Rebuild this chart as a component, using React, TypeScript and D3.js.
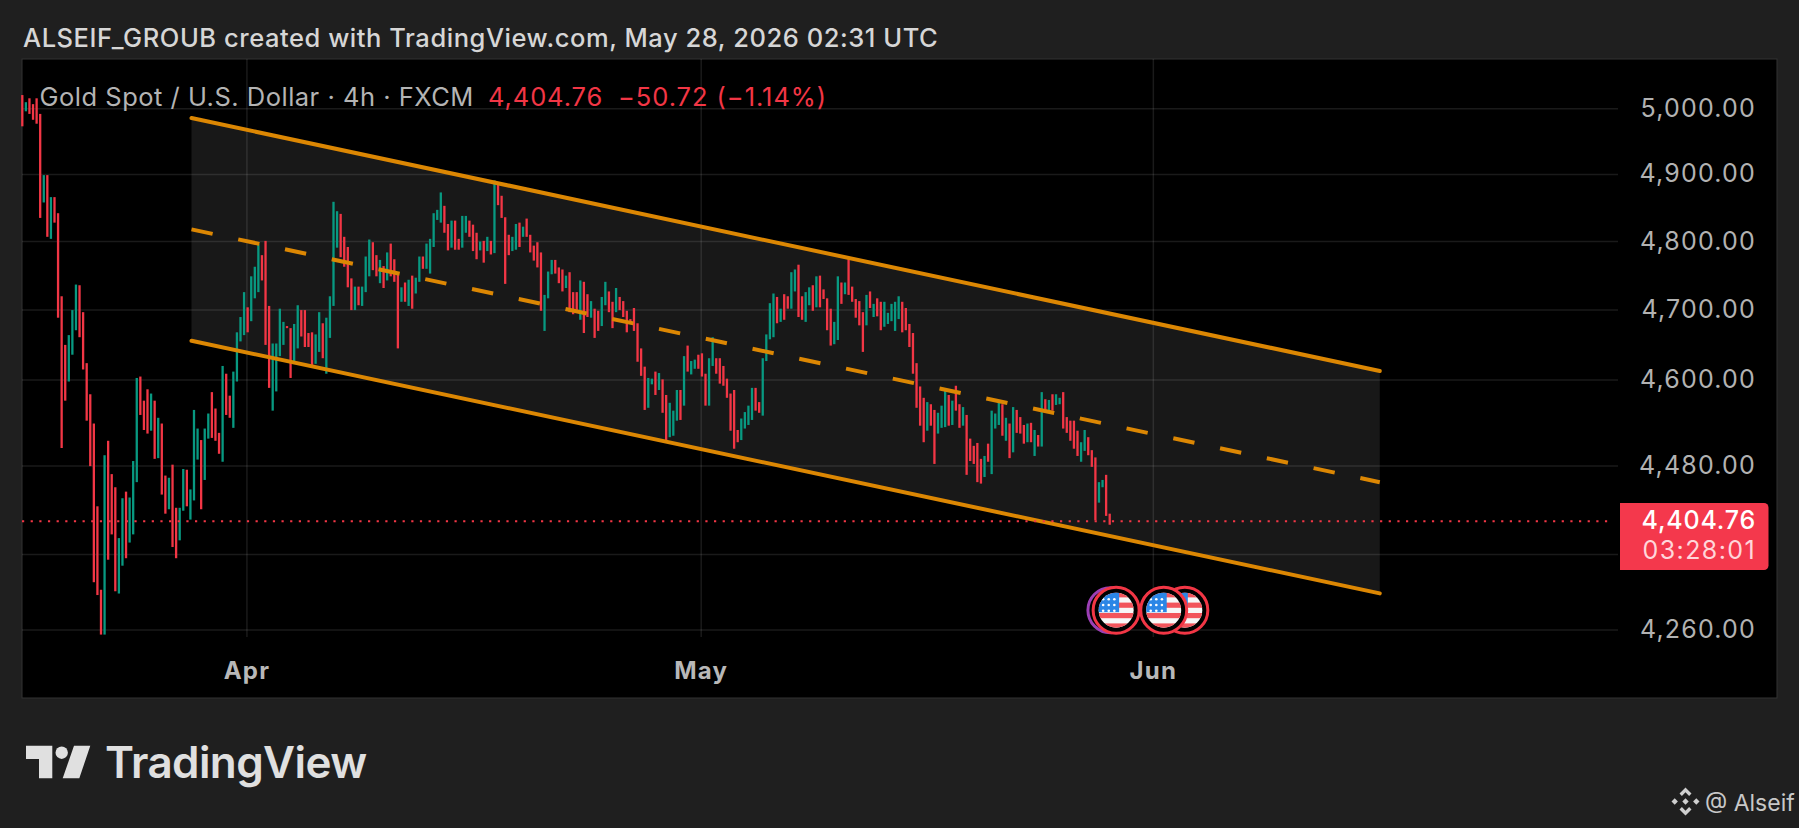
import React from "react";
import * as d3 from "d3";

const W = 1799, H = 828;
const titleText = "ALSEIF_GROUB created with TradingView.com, May 28, 2026 02:31 UTC";
const legendMain = "Gold Spot / U.S. Dollar · 4h · FXCM";
const legendPrice = "4,404.76";
const legendChange = "−50.72 (−1.14%)";
const lastPrice = 4404.76;
const countdown = "03:28:01";
const priceTicks = [5000, 4900, 4800, 4700, 4600, 4480, 4260];
const hiddenTicks = [4360];
const monthLabels = ["Apr", "May", "Jun"];
const monthBars = [62.8, 189.8, 316.2];

const highs = [
5021,5010,5016,5007,5016,4992,4899,4899,4866,4866,
4842,4720,4650,4664,4700,4737,4736,4697,4624,4580,
4539,4425,4313,4495,4515,4469,4451,4382,4436,4445,
4437,4487,4603,4605,4571,4587,4581,4571,4547,4539,
4467,4464,4482,4423,4423,4476,4475,4448,4558,4532,
4516,4532,4553,4583,4560,4526,4620,4609,4578,4612,
4668,4690,4726,4704,4749,4763,4796,4780,4801,4706,
4652,4652,4702,4683,4677,4674,4680,4707,4700,4700,
4667,4668,4665,4697,4681,4689,4720,4859,4845,4841,
4807,4792,4746,4734,4734,4734,4778,4803,4799,4780,
4773,4764,4784,4797,4774,4755,4733,4740,4744,4750,
4747,4778,4778,4797,4804,4842,4847,4873,4853,4826,
4831,4831,4804,4838,4838,4831,4825,4813,4800,4801,
4807,4801,4891,4886,4868,4836,4810,4807,4826,4828,
4822,4834,4810,4794,4799,4784,4722,4756,4773,4773,
4762,4759,4750,4755,4726,4726,4743,4741,4723,4713,
4702,4699,4719,4741,4727,4712,4732,4719,4713,4699,
4687,4703,4681,4645,4619,4603,4602,4612,4610,4601,
4579,4568,4557,4586,4586,4634,4649,4627,4629,4636,
4638,4609,4631,4661,4631,4631,4620,4602,4581,4586,
4530,4546,4555,4564,4589,4589,4569,4631,4665,4710,
4724,4719,4702,4723,4720,4755,4759,4766,4720,4726,
4733,4736,4749,4750,4730,4717,4702,4683,4749,4740,
4740,4774,4734,4716,4713,4697,4722,4727,4709,4717,
4712,4712,4696,4709,4712,4720,4712,4703,4680,4667,
4624,4591,4575,4569,4566,4558,4554,4564,4586,4579,
4571,4592,4566,4562,4551,4518,4508,4512,4490,4494,
4511,4557,4553,4572,4566,4547,4539,4562,4558,4548,
4537,4539,4540,4530,4523,4583,4573,4572,4580,4580,
4575,4583,4548,4543,4543,4529,4513,4530,4520,4502,
4492,4458,4461,4468,4415];

const lows = [
4973,4996,4992,4983,4977,4835,4858,4807,4804,4828,
4689,4505,4571,4598,4636,4671,4661,4615,4543,4480,
4323,4306,4254,4254,4353,4387,4311,4308,4345,4355,
4376,4387,4458,4551,4530,4525,4529,4490,4491,4441,
4415,4421,4370,4355,4379,4419,4425,4407,4433,4489,
4421,4461,4518,4519,4515,4497,4486,4551,4547,4533,
4598,4655,4664,4668,4684,4717,4726,4743,4650,4589,
4557,4584,4634,4650,4674,4603,4626,4645,4662,4647,
4647,4619,4623,4640,4631,4609,4660,4706,4791,4777,
4763,4733,4700,4700,4707,4706,4726,4749,4758,4749,
4739,4732,4743,4749,4741,4645,4712,4712,4706,4702,
4724,4741,4760,4760,4753,4792,4832,4828,4813,4787,
4791,4788,4788,4791,4813,4807,4786,4774,4787,4769,
4786,4781,4783,4854,4835,4738,4780,4786,4788,4792,
4807,4807,4784,4772,4762,4699,4670,4717,4752,4753,
4739,4727,4732,4697,4694,4697,4686,4667,4690,4689,
4660,4670,4677,4707,4697,4674,4697,4700,4690,4668,
4680,4670,4626,4606,4558,4561,4594,4579,4586,4554,
4513,4520,4522,4543,4544,4564,4612,4608,4616,4616,
4605,4564,4564,4620,4609,4595,4592,4575,4529,4504,
4513,4516,4532,4537,4544,4557,4554,4550,4627,4658,
4661,4681,4683,4686,4702,4702,4727,4690,4686,4683,
4707,4699,4704,4704,4716,4671,4649,4651,4657,4709,
4723,4722,4712,4689,4678,4640,4678,4703,4690,4691,
4671,4676,4680,4684,4670,4687,4668,4671,4647,4609,
4561,4536,4513,4529,4536,4483,4525,4533,4534,4536,
4537,4557,4533,4536,4468,4487,4483,4458,4456,4465,
4486,4469,4532,4537,4522,4515,4491,4499,4526,4525,
4511,4513,4513,4494,4507,4507,4557,4554,4557,4565,
4566,4532,4526,4515,4504,4494,4486,4501,4495,4479,
4406,4430,4451,4412,4400];

const directions = [
"duddddudud","ddduuudddd","ddduddduud","uuudddudud","dudduuduuu",
"duuddduddu","uuuduuuddd","uuuudduudd","dduuduuuud","ddduduuudd",
"ududddudud","uuduuuuudd","udduudddud","ududddduud","uddddduuud",
"ddudddu" + "ddu","dduudduddd","ddddduudud","duuududuud","dduudddddd",
"duuuudduuu","ududduuddu","ududddduud","udddddudud","duuuuudddd",
"ddduddu" + "uud","udduddddd" + "u","duuudududd","dududududu","uddddduudd",
"duudd"].join("").split("");

// trend channel, as [bar index, price] of its ends
const channelStart = 47.3;
const channelEnd = 379.5;
const upperPrices = [4985.7, 4612.8];
const lowerPrices = [4655.9, 4308.2];

const eventBars = [319.1, 305.8];
const eventBehind = [325];
const eventPurple = [304.2];
const eventPrice = 4286;

const x = d3.scaleLinear().domain([0, 304]).range([22.3, 1109.7]);
const y = d3.scaleLog().domain([5000, 4260]).range([108.7, 630]);

const RED = "#f23645", GREEN = "#089981", ORANGE = "#dc8703";
const FONT = "Inter, 'Noto Sans', sans-serif";

const lineGen = d3.line<[number, number]>().x(d => x(d[0])).y(d => y(d[1]));
const upper: [number, number][] = [[channelStart, upperPrices[0]], [channelEnd, upperPrices[1]]];
const lower: [number, number][] = [[channelStart, lowerPrices[0]], [channelEnd, lowerPrices[1]]];
const middle: [number, number][] = [
  [channelStart, Math.sqrt(upperPrices[0] * lowerPrices[0])],
  [channelEnd, Math.sqrt(upperPrices[1] * lowerPrices[1])],
];
const fillPath = lineGen([...upper, ...[...lower].reverse()]) + "Z";

const stars: [number, number][] = [];
for (let r = 0; r < 3; r++) for (let c = 0; c < 3; c++) stars.push([-13 + c * 5.6, -11 + r * 5.8]);

function Flag({ cx, cy, id }: { cx: number; cy: number; id: string }) {
  const rows = d3.range(7);
  return (
    <g transform={`translate(${cx},${cy})`}>
      <circle r={23} fill="#000" stroke={RED} strokeWidth={3} />
      <clipPath id={id}><circle r={17.5} /></clipPath>
      <g clipPath={`url(#${id})`}>
        <rect x={-18} y={-18} width={36} height={36} fill="#f7f7f7" />
        {rows.filter(i => i % 2 === 0).map(i => (
          <rect key={i} x={-18} y={-18 + i * 5.2} width={36} height={5.2} fill="#f2545b" />
        ))}
        <rect x={-18} y={-18} width={21} height={20} fill="#2b86e6" />
        {stars.map((s, i) => <circle key={i} cx={s[0]} cy={s[1]} r={1.3} fill="#fff" />)}
      </g>
    </g>
  );
}

export default function App() {
  return (
    <svg width={W} height={H} viewBox={`0 0 ${W} ${H}`}
      style={{ position: "absolute", left: 0, top: 0, display: "block", fontFamily: FONT }}>
      <style>{`body{margin:0;background:#1f1f1f}`}</style>
      <rect width={W} height={H} fill="#1f1f1f" />
      <text x={23} y={47} fontSize={25.5} fontWeight={500} letterSpacing={0.55} fill="#d6d6d6">{titleText}</text>

      <rect x={22} y={59} width={1755} height={639} fill="#000" stroke="#333" strokeWidth={1} />

      {[...priceTicks, ...hiddenTicks].map(t => (
        <line key={t} x1={22} x2={1618} y1={y(t)} y2={y(t)} stroke="#fff" strokeOpacity={0.1} strokeWidth={1.5} />
      ))}
      {monthBars.map(b => (
        <line key={b} x1={x(b)} x2={x(b)} y1={59} y2={637} stroke="#fff" strokeOpacity={0.1} strokeWidth={1.5} />
      ))}

      <path d={fillPath} fill="#fff" fillOpacity={0.095} />

      {highs.map((h, i) => (
        <rect key={i} x={x(i) - 1.15} width={2.3} y={y(h)} height={y(lows[i]) - y(h)}
          fill={directions[i] === "u" ? GREEN : RED} />
      ))}

      <path d={lineGen(upper)!} stroke={ORANGE} strokeWidth={4} fill="none" strokeLinecap="round" />
      <path d={lineGen(lower)!} stroke={ORANGE} strokeWidth={4} fill="none" strokeLinecap="round" />
      <path d={lineGen(middle)!} stroke={ORANGE} strokeWidth={4} fill="none" strokeDasharray="21.6 26.2" />

      <line x1={22} x2={1611} y1={y(lastPrice)} y2={y(lastPrice)} stroke={RED} strokeWidth={2.2} strokeDasharray="2.2 6.45" />

      {eventPurple.map((b, i) => (
        <circle key={i} cx={x(b)} cy={y(eventPrice)} r={22.5} fill="#000" stroke="#9c3fb5" strokeWidth={3} />
      ))}
      {eventBehind.map((b, i) => <Flag key={i} cx={x(b)} cy={y(eventPrice)} id={`fb${i}`} />)}
      {eventBars.map((b, i) => <Flag key={i} cx={x(b)} cy={y(eventPrice)} id={`fa${i}`} />)}

      {monthLabels.map((m, i) => (
        <text key={m} x={x(monthBars[i])} y={679} textAnchor="middle" fontSize={24} fontWeight={700} letterSpacing={1.2} fill="#b8b8b8">{m}</text>
      ))}

      <text x={39.5} y={106} fontSize={25.5} letterSpacing={0.5} fill="#b4b4b4">{legendMain}</text>
      <text x={488} y={106} fontSize={25.5} letterSpacing={0.9} fill={RED}>{legendPrice}</text>
      <text x={618} y={106} fontSize={25.5} letterSpacing={0.95} fill={RED}>{legendChange}</text>

      {priceTicks.map(t => (
        <text key={t} x={1756} y={y(t) + 8} textAnchor="end" fontSize={25} letterSpacing={1.2} fill="#b2b2b2">
          {d3.format(",.2f")(t)}
        </text>
      ))}

      <path d="M1620,503H1764a4.5,4.5 0 0 1 4.5,4.5V565.5a4.5,4.5 0 0 1 -4.5,4.5H1620Z" fill="#f4384c" />
      <text x={1756} y={y(lastPrice) + 8} textAnchor="end" fontSize={25} fontWeight={500} letterSpacing={0.8} fill="#fff">{d3.format(",.2f")(lastPrice)}</text>
      <text x={1756} y={559} textAnchor="end" fontSize={25} letterSpacing={1.4} fill="#ffd6da">{countdown}</text>

      <g fill="#e0e0e0">
        <path d="M26,745.7H52.3V778.3H39V759H26Z" />
        <circle cx={61.7} cy={752.7} r={6.2} />
        <path d="M74,745.7H90.3L79.3,778.3H62.7Z" />
        <text x={105} y={778.3} fontSize={44} fontWeight={600} letterSpacing={-0.6}>TradingView</text>
      </g>

      <g transform="translate(1685.5,801.5)" fill="#cfcfcf">
        <path d="M0,-14L6,-8L3.6,-5.6L0,-9.2L-3.6,-5.6L-6,-8Z" />
        <path d="M0,14L6,8L3.6,5.6L0,9.2L-3.6,5.6L-6,8Z" />
        <path d="M0,-3.2L3.2,0L0,3.2L-3.2,0Z" />
        <path d="M-14,0L-10.8,-3.2L-7.6,0L-10.8,3.2Z" />
        <path d="M14,0L10.8,-3.2L7.6,0L10.8,3.2Z" />
      </g>
      <text x={1705} y={811} fontSize={23} fill="#c8c8c8">@ Alseif</text>
    </svg>
  );
}
